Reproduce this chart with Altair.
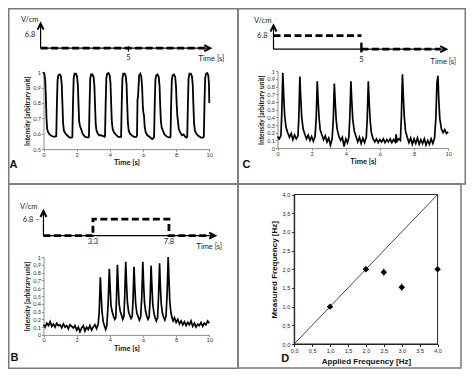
import altair as alt
import pandas as pd

# ---------------- data ----------------
# Panel A: intensity trace (1 Hz pacing)
a_t = [0.0, 0.05, 0.1, 0.14, 0.18, 0.22, 0.28, 0.36, 0.5, 0.65,
       0.77, 0.81, 0.85, 0.9, 0.98, 1.05, 1.1, 1.14, 1.18, 1.23, 1.3, 1.42, 1.58, 1.7,
       1.74, 1.78, 1.82, 1.87, 1.95, 2.02, 2.07, 2.11, 2.15, 2.2, 2.27, 2.36, 2.5, 2.68,
       2.74, 2.78, 2.82, 2.87, 2.95, 3.02, 3.07, 3.11, 3.15, 3.2, 3.28, 3.36, 3.45, 3.6, 3.68,
       3.71, 3.75, 3.79, 3.84, 3.92, 3.99, 4.04, 4.08, 4.12, 4.17, 4.25, 4.35, 4.5, 4.65,
       4.68, 4.72, 4.76, 4.81, 4.89, 4.96, 5.01, 5.05, 5.09, 5.14, 5.22, 5.32, 5.45, 5.6,
       5.64, 5.67, 5.7, 5.73, 5.77, 5.84, 5.9, 5.95, 5.99, 6.02, 6.06, 6.1, 6.16, 6.26, 6.4, 6.55, 6.62,
       6.67, 6.71, 6.75, 6.8, 6.88, 6.95, 7.0, 7.04, 7.08, 7.13, 7.2, 7.3, 7.45, 7.62,
       7.66, 7.7, 7.74, 7.79, 7.87, 7.94, 7.99, 8.03, 8.07, 8.11, 8.16, 8.24, 8.35, 8.45, 8.55, 8.62,
       8.67, 8.71, 8.75, 8.8, 8.88, 8.95, 9.0, 9.04, 9.08, 9.13, 9.22, 9.35, 9.5, 9.62,
       9.67, 9.71, 9.75, 9.8, 9.88, 9.94, 9.98, 10.0]
a_v = [1.0, 0.99, 0.95, 0.85, 0.7, 0.63, 0.61, 0.595, 0.585, 0.58,
       0.585, 0.8, 0.95, 0.98, 0.985, 0.975, 0.92, 0.8, 0.67, 0.62, 0.605, 0.59, 0.575, 0.575,
       0.58, 0.8, 0.96, 0.99, 0.99, 0.975, 0.92, 0.8, 0.68, 0.65, 0.63, 0.6, 0.58, 0.575,
       0.58, 0.8, 0.96, 0.985, 0.985, 0.97, 0.91, 0.78, 0.66, 0.62, 0.6, 0.59, 0.59, 0.585, 0.58,
       0.585, 0.8, 0.96, 0.99, 0.995, 0.98, 0.93, 0.8, 0.68, 0.63, 0.61, 0.595, 0.58, 0.58,
       0.58, 0.8, 0.96, 0.99, 0.99, 0.975, 0.92, 0.79, 0.67, 0.62, 0.6, 0.59, 0.58, 0.58,
       0.59, 0.82, 0.84, 0.9, 0.98, 0.99, 0.97, 0.9, 0.78, 0.74, 0.72, 0.65, 0.61, 0.59, 0.58, 0.565, 0.57,
       0.58, 0.8, 0.95, 0.98, 0.985, 0.97, 0.91, 0.78, 0.68, 0.64, 0.62, 0.595, 0.58, 0.575,
       0.58, 0.8, 0.95, 0.98, 0.985, 0.97, 0.91, 0.8, 0.72, 0.68, 0.63, 0.61, 0.59, 0.595, 0.58, 0.575,
       0.58, 0.8, 0.96, 0.99, 0.99, 0.975, 0.92, 0.79, 0.67, 0.62, 0.6, 0.585, 0.575, 0.575,
       0.58, 0.8, 0.96, 0.99, 0.995, 0.98, 0.92, 0.8]

# Panel B: intensity trace (field on 3.3-7.8 s)
b_t = [0.0, 0.1, 0.2, 0.3, 0.4, 0.5, 0.6, 0.7, 0.8, 0.9, 1.0, 1.1, 1.2, 1.3, 1.4, 1.5, 1.6,
       1.7, 1.8, 1.9, 2.0, 2.1, 2.2, 2.3, 2.4, 2.5, 2.6, 2.7, 2.8, 2.9, 3.0, 3.1, 3.2, 3.3,
       3.36, 3.43, 3.48, 3.53, 3.6, 3.67, 3.75, 3.82,
       3.9, 3.97, 4.02, 4.07, 4.14, 4.22, 4.3, 4.36,
       4.4, 4.46, 4.51, 4.56, 4.63, 4.7, 4.78, 4.85,
       4.9, 4.96, 5.01, 5.06, 5.13, 5.2, 5.28, 5.35,
       5.4, 5.46, 5.51, 5.56, 5.63, 5.7, 5.78, 5.86,
       5.93, 5.99, 6.04, 6.09, 6.16, 6.23, 6.3, 6.37,
       6.43, 6.49, 6.54, 6.59, 6.66, 6.73, 6.8, 6.88,
       6.94, 7.0, 7.05, 7.1, 7.17, 7.24, 7.32, 7.39,
       7.46, 7.52, 7.57, 7.62, 7.68, 7.75, 7.82,
       7.9, 8.0, 8.1, 8.2, 8.3, 8.4, 8.5, 8.6, 8.7, 8.8, 8.9, 9.0, 9.1, 9.2, 9.3, 9.4,
       9.5, 9.6, 9.7, 9.8, 9.9, 10.0]
b_v = [0.13, 0.1, 0.15, 0.12, 0.17, 0.11, 0.14, 0.1, 0.15, 0.12, 0.13, 0.09, 0.14, 0.1, 0.12, 0.08, 0.13,
       0.11, 0.09, 0.12, 0.06, 0.1, 0.04, 0.09, 0.12, 0.05, 0.1, 0.07, 0.12, 0.06, 0.1, 0.13, 0.08, 0.14,
       0.3, 0.74, 0.5, 0.3, 0.17, 0.12, 0.07, 0.12,
       0.4, 0.85, 0.6, 0.38, 0.3, 0.24, 0.2, 0.22,
       0.45, 0.9, 0.62, 0.4, 0.3, 0.26, 0.2, 0.24,
       0.5, 0.94, 0.65, 0.42, 0.3, 0.25, 0.21, 0.24,
       0.45, 0.875, 0.6, 0.4, 0.28, 0.24, 0.19, 0.23,
       0.5, 0.94, 0.65, 0.42, 0.3, 0.24, 0.2, 0.23,
       0.45, 0.89, 0.62, 0.4, 0.28, 0.22, 0.18, 0.22,
       0.5, 0.92, 0.62, 0.4, 0.28, 0.23, 0.19, 0.24,
       0.55, 1.0, 0.7, 0.42, 0.3, 0.22, 0.18,
       0.22, 0.16, 0.2, 0.14, 0.18, 0.13, 0.17, 0.12, 0.16, 0.13, 0.18, 0.11, 0.15, 0.1, 0.14, 0.12,
       0.16, 0.11, 0.15, 0.13, 0.18, 0.15]

# Panel C: intensity trace (field on 0-5 s)
c_t = [0.0, 0.1, 0.2, 0.25, 0.31, 0.36, 0.42, 0.5, 0.6, 0.7, 0.8, 0.9, 1.0, 1.1, 1.2,
       1.25, 1.31, 1.36, 1.42, 1.5, 1.6, 1.7, 1.8, 1.9, 2.0, 2.1, 2.2,
       2.27, 2.33, 2.38, 2.44, 2.5, 2.6, 2.7, 2.8, 2.9, 3.0, 3.1, 3.2,
       3.27, 3.33, 3.38, 3.44, 3.5, 3.6, 3.7, 3.8, 3.9, 4.0, 4.1, 4.18,
       4.24, 4.3, 4.35, 4.41, 4.5, 4.6, 4.7, 4.8, 4.9, 5.0, 5.1, 5.2,
       5.26, 5.32, 5.37, 5.43, 5.5, 5.6, 5.7, 5.8, 5.9, 6.0, 6.1, 6.2, 6.3, 6.4, 6.5, 6.6, 6.7, 6.8, 6.9,
       6.95, 7.0, 7.1, 7.2,
       7.26, 7.32, 7.37, 7.43, 7.5, 7.6, 7.7, 7.8, 7.9, 8.0, 8.1, 8.2, 8.3, 8.4, 8.5, 8.6, 8.7, 8.8,
       8.9, 9.0, 9.1, 9.2,
       9.28, 9.34, 9.4, 9.45, 9.51, 9.6, 9.7, 9.8, 9.9, 10.0]
c_v = [0.15, 0.12, 0.16, 0.45, 0.98, 0.7, 0.42, 0.27, 0.2, 0.14, 0.19, 0.11, 0.17, 0.12, 0.16,
       0.4, 0.93, 0.66, 0.4, 0.25, 0.18, 0.12, 0.17, 0.1, 0.15, 0.09, 0.15,
       0.4, 0.87, 0.62, 0.38, 0.24, 0.17, 0.11, 0.16, 0.08, 0.13, 0.04, 0.12,
       0.38, 0.84, 0.6, 0.36, 0.24, 0.15, 0.1, 0.14, 0.02, 0.12, 0.07, 0.14,
       0.42, 0.87, 0.62, 0.37, 0.22, 0.15, 0.08, 0.14, 0.06, 0.13, 0.07, 0.14,
       0.4, 0.87, 0.6, 0.35, 0.2, 0.12, 0.08, 0.12, 0.07, 0.11, 0.08, 0.12, 0.07, 0.11, 0.08, 0.12, 0.07, 0.11, 0.08,
       0.18, 0.09, 0.12, 0.1,
       0.42, 0.96, 0.68, 0.4, 0.22, 0.14, 0.07, 0.13, 0.05, 0.12, 0.06, 0.13, 0.05, 0.11, 0.06, 0.12, 0.04, 0.1,
       0.05, 0.12, 0.06, 0.13,
       0.4, 0.85, 0.94, 0.62, 0.38, 0.25, 0.2, 0.24, 0.19, 0.21]

# Stimulus protocols (time [s], field [V/cm])
field_level = 6.8
stim_a_t = [0.0, 9.45]
stim_a_v = [0.0, 0.0]
stim_a_seg = [0, 0]
stim_c_t = [0.0, 5.0, 5.0, 9.5]
stim_c_v = [6.8, 6.8, 0.0, 0.0]
stim_c_seg = [0, 0, 1, 1]
stim_b_t = [0.37, 3.3, 3.3, 7.8, 7.8, 10.3]
stim_b_v = [0.0, 0.0, 6.8, 6.8, 0.0, 0.0]
stim_b_seg = [0, 0, 0, 0, 0, 0]

# Panel D: measured vs applied frequency
d_applied = [1.0, 2.0, 2.5, 3.0, 4.0]
d_measured = [1.0, 2.0, 1.92, 1.52, 2.0]
d_err = [0.02, 0.03, 0.12, 0.12, 0.03]
d_line = [0.0, 4.0]

# ---------------- layout ----------------
W, H = 458, 361
TXT = "Lato"
ARI = "Liberation Sans"


def S(dom, rng):
    return alt.Scale(domain=dom, range=rng, nice=False, zero=False)


layers = []


def stim_panel(t, v, seg, xr, yr, t0, ttip, vtip, ticks, tick_lo, tick_hi, tick_w,
               tick_v, center_txt, right_txt):
    xs = S([0, 10], xr)
    ys = S([0, 6.8], yr)
    out = []
    # axis lines
    ax = pd.DataFrame({'x1': [t0, t0], 'x2': [ttip, t0], 'y1': [0, 0], 'y2': [0, vtip]})
    out.append(alt.Chart(ax).mark_rule(color='black', strokeWidth=1.2).encode(
        x=alt.X('x1:Q', scale=xs, axis=None), x2='x2:Q',
        y=alt.Y('y1:Q', scale=ys, axis=None), y2='y2:Q'))
    # ticks
    tk = pd.DataFrame({'x': ticks, 'y1': [tick_lo] * len(ticks), 'y2': [tick_hi] * len(ticks)})
    out.append(alt.Chart(tk).mark_rule(color='black', strokeWidth=tick_w).encode(
        x=alt.X('x:Q', scale=xs, axis=None),
        y=alt.Y('y1:Q', scale=ys, axis=None), y2='y2:Q'))
    # stimulus (dashed)
    df = pd.DataFrame({'t': t, 'v': v, 'seg': seg, 'i': list(range(len(t)))})
    out.append(alt.Chart(df).mark_line(color='black', strokeWidth=2.8, strokeDash=[7, 3.5]).encode(
        x=alt.X('t:Q', scale=xs, axis=None), y=alt.Y('v:Q', scale=ys, axis=None),
        detail='seg:N', order='i:Q'))
    # arrow heads
    ah = pd.DataFrame({'x': [ttip], 'y': [0]})
    out.append(alt.Chart(ah).mark_point(shape='M-1,-0.5L0,0L-1,0.5', size=144, filled=False,
                                        color='black', strokeWidth=2, opacity=1).encode(
        x=alt.X('x:Q', scale=xs, axis=None), y=alt.Y('y:Q', scale=ys, axis=None)))
    av = pd.DataFrame({'x': [t0], 'y': [vtip]})
    out.append(alt.Chart(av).mark_point(shape='M-0.5,1L0,0L0.5,1', size=144, filled=False,
                                        color='black', strokeWidth=2, opacity=1).encode(
        x=alt.X('x:Q', scale=xs, axis=None), y=alt.Y('y:Q', scale=ys, axis=None)))
    # tick labels
    tl = pd.DataFrame({'x': ticks, 'y': [tick_v] * len(ticks), 'lab': [f"{k:g}" for k in ticks]})
    ct = pd.DataFrame(center_txt, columns=['x', 'y', 'lab'])
    ct = pd.concat([ct, tl], ignore_index=True)
    out.append(alt.Chart(ct).mark_text(align='center', baseline='middle', font=TXT, fontSize=7.5,
                                       color='#1a1a1a').encode(
        x=alt.X('x:Q', scale=xs, axis=None), y=alt.Y('y:Q', scale=ys, axis=None), text='lab:N'))
    rt = pd.DataFrame(right_txt, columns=['x', 'y', 'lab'])
    out.append(alt.Chart(rt).mark_text(align='right', baseline='middle', font=TXT, fontSize=7.5,
                                       color='#1a1a1a').encode(
        x=alt.X('x:Q', scale=xs, axis=None), y=alt.Y('y:Q', scale=ys, axis=None), text='lab:N'))
    return out


def trace_panel(t, v, xr, yr, ydom, yvals, lw):
    xs = S([0, 10], xr)
    ys = S(ydom, yr)
    df = pd.DataFrame({'t': t, 'v': v, 'i': list(range(len(t)))})
    xa = alt.Axis(orient='bottom', offset=yr[0] - H, values=[0, 2, 4, 6, 8, 10], format='d',
                  title='Time [s]', titleFont=TXT, titleFontSize=7.5, titleFontWeight='bold',
                  titleColor='#111', titlePadding=1, labelFont=TXT, labelFontSize=5.5,
                  labelColor='#333', labelPadding=1, labelFlush=False, labelOverlap=False,
                  tickSize=2, tickColor='#8c8c8c', domainColor='#8c8c8c', grid=False)
    ya = alt.Axis(orient='left', offset=-xr[0], values=yvals, format='.1~f',
                  title='Intensity  [arbitrary unit]', titleFont=TXT, titleFontSize=6.6,
                  titleFontWeight='bold', titleColor='#111', titlePadding=2, labelFont=TXT,
                  labelFontSize=5.5, labelColor='#333', labelPadding=1, labelFlush=False,
                  labelOverlap=False, tickSize=2, tickColor='#8c8c8c', domainColor='#8c8c8c',
                  grid=False)
    return [alt.Chart(df).mark_line(color='black', strokeWidth=lw).encode(
        x=alt.X('t:Q', scale=xs, axis=xa), y=alt.Y('v:Q', scale=ys, axis=ya), order='i:Q')]


# A stimulus + trace
layers += stim_panel(stim_a_t, stim_a_v, stim_a_seg, [32.6, 208.2], [40.2, 26.6],
                     0.0, 9.66, 12.3, [5], 1.0, -1.6, 1.2, -4.7,
                     [(-0.62, 14.25, 'V/cm')],
                     [(-0.3, field_level, '6.8'), (10.46, -5.2, 'Time [s]')])
layers += trace_panel(a_t, a_v, [35.5, 201.3], [141.1, 64.2], [0.5, 1.0],
                      [0.5, 0.6, 0.7, 0.8, 0.9, 1.0], 1.8)

# C stimulus + trace
layers += stim_panel(stim_c_t, stim_c_v, stim_c_seg, [265.5, 441.3], [41.2, 27.6],
                     0.0, 9.82, 11.85, [5], 3.3, -1.6, 2.4, -5.2,
                     [(-0.62, 14.3, 'V/cm')],
                     [(-0.34, field_level, '6.8'), (10.39, -6.3, 'Time [s]')])
layers += trace_panel(c_t, c_v, [269.5, 440.2], [140.1, 63.2], [0.0, 1.0],
                      [0, 0.1, 0.2, 0.3, 0.4, 0.5, 0.6, 0.7, 0.8, 0.9, 1.0], 1.7)

# B stimulus + trace
layers += stim_panel(stim_b_t, stim_b_v, stim_b_seg, [29.2, 198.1], [227.7, 211.1],
                     0.37, 10.54, 10.1, [3.3, 7.8], 0.0, -0.6, 1.0, -2.5,
                     [(-0.5, 11.6, 'V/cm')],
                     [(0.14, 6.3, '6.8 –'), (10.95, -4.8, 'Time [s]')])
layers += trace_panel(b_t, b_v, [35.5, 201.3], [326.9, 249.1], [0.0, 1.0],
                      [0, 0.1, 0.2, 0.3, 0.4, 0.5, 0.6, 0.7, 0.8, 0.9, 1.0], 1.7)

# D scatter
dxs = S([0, 4], [286.2, 429.6])
dys = S([0, 4], [336.0, 186.5])
d_df = pd.DataFrame({'a': d_applied, 'm': d_measured, 'lo': [m - e for m, e in zip(d_measured, d_err)],
                     'hi': [m + e for m, e in zip(d_measured, d_err)]})
comma = "replace(format(datum.value, '.1f'), '.', ',')"
dxa = alt.Axis(orient='bottom', offset=336.0 - H, values=[0, 0.5, 1, 1.5, 2, 2.5, 3, 3.5, 4],
               labelExpr=comma, title='Applied Frequency [Hz]', titleFont=ARI, titleFontSize=8,
               titleFontWeight='bold', titleColor='#111', titlePadding=3, labelFont=ARI,
               labelFontSize=5.5, labelColor='#222', labelPadding=2, labelFlush=False,
               labelOverlap=False, tickSize=2.5, tickColor='#222', domainColor='#222', grid=False)
dya = alt.Axis(orient='left', offset=-286.2, values=[0, 0.5, 1, 1.5, 2, 2.5, 3, 3.5, 4],
               labelExpr=comma, title='Measured Frequency [Hz]', titleFont=ARI, titleFontSize=8,
               titleFontWeight='bold', titleColor='#111', titlePadding=4, labelFont=ARI,
               labelFontSize=5.5, labelColor='#222', labelPadding=2, labelFlush=False,
               labelOverlap=False, tickSize=2.5, tickColor='#222', domainColor='#222', grid=False)
frame_df = pd.DataFrame({'x1': [0.0], 'x2': [4.0], 'y1': [0.0], 'y2': [4.0]})
layers.append(alt.Chart(frame_df).mark_rect(fillOpacity=0, stroke='#222', strokeWidth=1).encode(
    x=alt.X('x1:Q', scale=dxs, axis=dxa), x2='x2:Q',
    y=alt.Y('y1:Q', scale=dys, axis=dya), y2='y2:Q'))
line_df = pd.DataFrame({'x': d_line, 'y': d_line})
layers.append(alt.Chart(line_df).mark_line(color='#333', strokeWidth=0.9).encode(
    x=alt.X('x:Q', scale=dxs, axis=None), y=alt.Y('y:Q', scale=dys, axis=None)))
layers.append(alt.Chart(d_df).mark_rule(color='#9a9a9a', strokeWidth=1).encode(
    x=alt.X('a:Q', scale=dxs, axis=None), y=alt.Y('lo:Q', scale=dys, axis=None), y2='hi:Q'))
layers.append(alt.Chart(d_df).mark_point(shape='diamond', filled=True, color='black', size=42,
                                         opacity=1).encode(
    x=alt.X('a:Q', scale=dxs, axis=None), y=alt.Y('m:Q', scale=dys, axis=None)))

# panel frames and letters (decoration)
dummy = pd.DataFrame({'k': [0]})
for (x1, x2, y1, y2) in [(0.75, 230, 0.75, 176), (230, 457.25, 0.75, 176),
                         (0.75, 230, 176, 360.25), (230, 453, 176, 360)]:
    layers.append(alt.Chart(dummy).mark_rect(fillOpacity=0, stroke='#7a7a7a', strokeWidth=1.5).encode(
        x=alt.value(x1), x2=alt.value(x2), y=alt.value(y1), y2=alt.value(y2)))
for (lab, x, y) in [('A', 1.5, 160.2), ('C', 234.5, 160.2), ('B', 2.5, 352.9), ('D', 273.3, 353.5)]:
    layers.append(alt.Chart(dummy).mark_text(text=lab, align='left', baseline='alphabetic', font=ARI,
                                             fontSize=11, fontWeight='bold', color='#111').encode(
        x=alt.value(x), y=alt.value(y)))

chart = alt.layer(*layers).resolve_scale(x='independent', y='independent').resolve_axis(
    x='independent', y='independent').properties(
    width=W, height=H, padding=0, autosize=alt.AutoSizeParams(type='none')
).configure_view(stroke=None)

chart.save("out.html", embed_options={"renderer": "svg", "actions": False})
